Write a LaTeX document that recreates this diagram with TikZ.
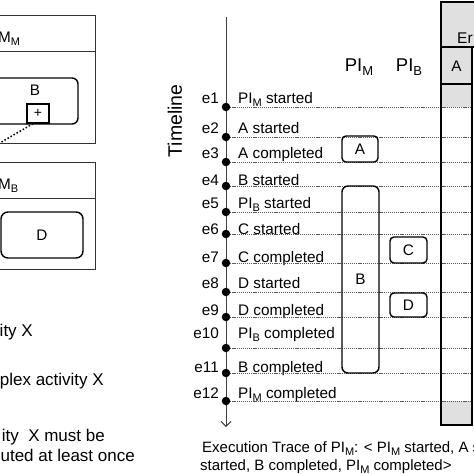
\documentclass[tikz,border=0pt]{standalone}
\usepackage{fontspec}
\setmainfont{Liberation Sans}
\usetikzlibrary{arrows.meta}
\newcommand\lowsub[2][11]{\raisebox{-0.4ex}{\fontsize{#1}{#1}\selectfont #2}}
\begin{document}
\begin{tikzpicture}[x=1pt,y=-1pt]
\tikzset{
  txt/.style={font=\fontsize{15.3}{18}\selectfont, inner sep=0pt},
  legtxt/.style={font=\fontsize{17}{20}\selectfont, inner sep=0pt},
  captxt/.style={font=\fontsize{15}{18}\selectfont, inner sep=0pt},
  evdot/.style={circle, fill=black, inner sep=0pt, minimum size=8.5pt},
  evline/.style={draw=black!65, line width=0.7pt, dash pattern=on 1.2pt off 0.9pt},
  actbox/.style={draw=black, line width=1.4pt, rounded corners=4pt, inner sep=0pt, font=\fontsize{15.3}{18}\selectfont},
  panel/.style={draw=black!80, line width=0.9pt},
  colline/.style={draw=black, line width=2pt},
  shade/.style={fill=black!12},
  tlline/.style={draw=black!75, line width=1pt, -{Straight Barb[length=5pt,width=10pt]}},
  linkdots/.style={draw=black, line width=1.5pt, dash pattern=on 1.5pt off 2pt},
}
\useasboundingbox (0,0) rectangle (474,474);
\clip (0,0) rectangle (474,474);
\fill[white] (0,0) rectangle (474,474);

% ---------- left panel ----------
\draw[panel] (-5,15) rectangle (95,143);
\draw[panel] (-5,51) -- (95,51);
\node[txt, anchor=base west] (pmm) at (-2,42) {M\lowsub{M}};
\node[actbox, minimum width=88pt, minimum height=46pt, rounded corners=6pt] (bm) at (34,101) {};
\node[txt] (bmlab) at (35,90) {B};
\node[draw=black, line width=1.3pt, minimum width=22pt, minimum height=19pt, inner sep=0pt, font=\fontsize{14}{14}\selectfont] (plus) at (38,113.5) {+};
\coordinate (lnkend) at (-20,154.5);
\draw[linkdots] ([xshift=-5pt]plus.south) -- (lnkend);

\draw[panel] (-5,162) rectangle (95,269);
\draw[panel] (-5,198) -- (95,198);
\node[txt, anchor=base west] (pmb) at (-2,189) {M\lowsub{B}};
\node[actbox, minimum width=82pt, minimum height=46pt, rounded corners=7pt] (dm) at (42,235) {D};

\node[legtxt, anchor=base east] (lg1) at (33,336) {ity X};
\node[legtxt, anchor=base east] (lg2) at (104,385) {plex activity X};
\node[legtxt, anchor=base east] (lg3) at (105,441) {ity\ \ X must be};
\node[legtxt, anchor=base east] (lg4) at (135,461) {uted at least once};

% ---------- right column ----------
\fill[shade] (441,2) rectangle (480,47);
\fill[shade] (441,47) rectangle (472,107);
\fill[shade] (441,401) rectangle (472,425);

% ---------- timeline ----------
\coordinate (tltop) at (226,17);
\coordinate (tlbot) at (226,427);
\draw[tlline] (tltop) -- (tlbot);
\node[rotate=90, inner sep=0pt, font=\fontsize{19.5}{19.5}\selectfont] (tlabel) at (175,121) {Timeline};

\node[inner sep=0pt, font=\fontsize{18.5}{18.5}\selectfont] (pim) at (359,67) {PI\lowsub[13]{M}};
\node[inner sep=0pt, font=\fontsize{18.5}{18.5}\selectfont] (pib) at (409,67) {PI\lowsub[13]{B}};

\foreach \i/\dy/\ty/\lab in {
  1/107/98/{PI\lowsub{M} started},
  2/137/128/{A started},
  3/162/153/{A completed},
  4/186/180/{B started},
  5/212/203/{PI\lowsub{B} started},
  6/234/229/{C started},
  7/263/257/{C completed},
  8/292/283/{D started},
  9/317/310/{D completed},
  10/348/333/{PI\lowsub{B} completed},
  11/373/367/{B completed},
  12/401/393/{PI\lowsub{M} completed}} {
  \node[txt, anchor=base east] (e\i) at (219,\ty+5.5) {e\i};
  \node[txt, anchor=base west] (t\i) at (238,\ty+5.5) {\lab};
  \coordinate (r\i) at (472,\dy);
  \draw[evline] (226,\dy) -- (r\i);
  \node[evdot] (d\i) at (226,\dy) {};
}

\node[actbox, minimum width=36pt, minimum height=26pt] (ba) at (360,149) {A};
\node[actbox, minimum width=37pt, minimum height=187pt, rounded corners=6pt] (bb) at (360.5,279.5) {B};
\node[actbox, minimum width=37pt, minimum height=26pt] (bc) at (408.5,250) {C};
\node[actbox, minimum width=37pt, minimum height=24pt] (bd) at (408.5,305) {D};

% column outlines
\draw[colline] (480,2) -- (441,2) -- (441,425) -- (472,425) -- (472,47);
\draw[colline] (441,47) -- (480,47);
\draw[colline] (441,83.5) -- (472,83.5);
\node[txt] (cella) at (456.5,66) {A};
\node[inner sep=0pt, anchor=base west, font=\fontsize{15.5}{15.5}\selectfont] (hdr) at (457,43) {Er};

% ---------- caption ----------
\node[captxt, anchor=base west] (cap1) at (202,452) {Execution Trace of PI\lowsub{M}: < PI\lowsub{M} started, A s};
\node[captxt, anchor=base west] (cap2) at (200,470) {started, B completed, PI\lowsub{M} completed>};
\end{tikzpicture}
\end{document}
